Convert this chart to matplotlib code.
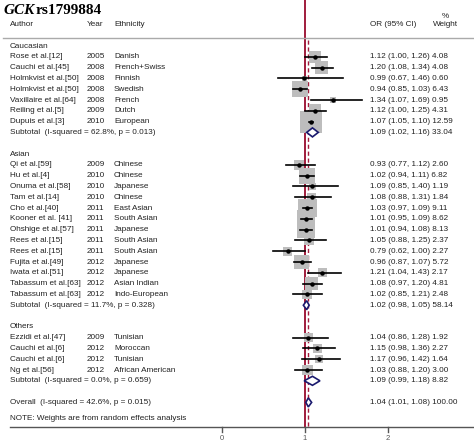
import matplotlib
matplotlib.use("Agg")
import matplotlib.pyplot as plt
from matplotlib.patches import Rectangle, Polygon

authors = ["Rose et al.[12]","Cauchi et al.[45]","Holmkvist et al.[50]","Holmkvist et al.[50]","Vaxillaire et al.[64]","Reiling et al.[5]","Dupuis et al.[3]",
           "Qi et al.[59]","Hu et al.[4]","Onuma et al.[58]","Tam et al.[14]","Cho et al.[40]","Kooner et al. [41]","Ohshige et al.[57]","Rees et al.[15]","Rees et al.[15]","Fujita et al.[49]","Iwata et al.[51]","Tabassum et al.[63]","Tabassum et al.[63]",
           "Ezzidi et al.[47]","Cauchi et al.[6]","Cauchi et al.[6]","Ng et al.[56]"]
years = [2005,2008,2008,2008,2008,2009,2010, 2009,2010,2010,2010,2011,2011,2011,2011,2011,2012,2012,2012,2012, 2009,2012,2012,2012]
ethn = ["Danish","French+Swiss","Finnish","Swedish","French","Dutch","European",
        "Chinese","Chinese","Japanese","Chinese","East Asian","South Asian","Japanese","South Asian","South Asian","Japanese","Japanese","Asian Indian","Indo-European",
        "Tunisian","Moroccan","Tunisian","African American"]
orv = [1.12,1.20,0.99,0.94,1.34,1.12,1.07, 0.93,1.02,1.09,1.08,1.03,1.01,1.01,1.05,0.79,0.96,1.21,1.08,1.02, 1.04,1.15,1.17,1.03]
lo = [1.00,1.08,0.67,0.85,1.07,1.00,1.05, 0.77,0.94,0.85,0.88,0.97,0.95,0.94,0.88,0.62,0.87,1.04,0.97,0.85, 0.86,0.98,0.96,0.88]
hi = [1.26,1.34,1.46,1.03,1.69,1.25,1.10, 1.12,1.11,1.40,1.31,1.09,1.09,1.08,1.25,1.00,1.07,1.43,1.20,1.21, 1.28,1.36,1.42,1.20]
wt = [4.08,4.08,0.60,6.43,0.95,4.31,12.59, 2.60,6.82,1.19,1.84,9.11,8.62,8.13,2.37,2.27,5.72,2.17,4.81,2.48, 1.92,2.27,1.64,3.00]
groups = ["Caucasian","Asian","Others"]
group_n = [7,13,4]
sub_label = ["Subtotal  (I-squared = 62.8%, p = 0.013)","Subtotal  (I-squared = 11.7%, p = 0.328)","Subtotal  (I-squared = 0.0%, p = 0.659)"]
sub_or = [1.09,1.02,1.09]; sub_lo = [1.02,0.98,0.99]; sub_hi = [1.16,1.05,1.18]; sub_w = [33.04,58.14,8.82]
ov_or, ov_lo, ov_hi = 1.04, 1.01, 1.08
xticks = [0,1,2]

plt.rcParams['font.family'] = ['Liberation Sans', 'DejaVu Sans']
W, H = 474, 442
fig = plt.figure(figsize=(W/100, H/100), dpi=100)
ax = fig.add_axes([0,0,1,1])
PX = 83.0
def X(px): return (px-305)/PX+1
ax.set_xlim(X(0), X(W)); ax.set_ylim(H, 0); ax.axis("off")
fs = 5.9
tc = "#222222"
def row_y(i): return 46 + i*10.8

ax.text(X(3), 11, "GCK", fontsize=11, family="Liberation Serif", va="center", fontweight="bold", fontstyle="italic")
ax.text(X(36), 11, "rs1799884", fontsize=11, family="Liberation Serif", va="center", fontweight="bold")
ax.text(X(10), 25, "Author", fontsize=fs, va="center", color=tc)
ax.text(X(87), 25, "Year", fontsize=fs, va="center", color=tc)
ax.text(X(114), 25, "Ethnicity", fontsize=fs, va="center", color=tc)
ax.text(X(370), 25, "OR (95% CI)", fontsize=fs, va="center", color=tc)
ax.text(X(445), 20, "%\nWeight", fontsize=fs, va="center", ha="center", color=tc, linespacing=1.2)
ax.plot([X(3), X(W)], [38, 38], color="#aaaaaa", lw=1)

ax.plot([1,1],[0,427], color="#a01c3c", lw=1.4, zorder=1)
ax.plot([ov_or,ov_or],[40,427], color="#a01c3c", lw=1, ls=(0,(3,2)), zorder=1)

def diamond(y, c, l, h):
    ax.add_patch(Polygon([(l,y),(c,y-4.5),(h,y),(c,y+4.5)], closed=True, fc="white", ec="#1a1a6e", lw=1.2, zorder=4))

r = 0; k = 0
for g in range(3):
    ax.text(X(10), row_y(r), groups[g], fontsize=fs, va="center", color=tc); r += 1
    for _ in range(group_n[g]):
        y = row_y(r)
        ax.text(X(10), y, authors[k], fontsize=fs, va="center", color=tc)
        ax.text(X(87), y, str(years[k]), fontsize=fs, va="center", color=tc)
        ax.text(X(114), y, ethn[k], fontsize=fs, va="center", color=tc)
        ax.text(X(370), y, f"{orv[k]:.2f} ({lo[k]:.2f}, {hi[k]:.2f}) {wt[k]:.2f}", fontsize=fs, va="center", color=tc)
        s = 6.2*wt[k]**0.5
        ax.add_patch(Rectangle((orv[k]-s/2/PX, y-s/2), s/PX, s, fc="#bdbdbd", ec="none", zorder=2))
        ax.plot([lo[k],hi[k]],[y,y], color="black", lw=1.2, zorder=3)
        ax.plot(orv[k], y, "o", color="black", ms=2.2, zorder=3)
        r += 1; k += 1
    y = row_y(r)
    ax.text(X(10), y, sub_label[g], fontsize=fs, va="center", color=tc)
    ax.text(X(370), y, f"{sub_or[g]:.2f} ({sub_lo[g]:.2f}, {sub_hi[g]:.2f}) {sub_w[g]:.2f}", fontsize=fs, va="center", color=tc)
    diamond(y, sub_or[g], sub_lo[g], sub_hi[g])
    r += 2
y = row_y(r)
ax.text(X(10), y, "Overall  (I-squared = 42.6%, p = 0.015)", fontsize=fs, va="center", color=tc)
ax.text(X(370), y, f"{ov_or:.2f} ({ov_lo:.2f}, {ov_hi:.2f}) 100.00", fontsize=fs, va="center", color=tc)
diamond(y, ov_or, ov_lo, ov_hi)
ax.text(X(10), 418, "NOTE: Weights are from random effects analysis", fontsize=fs, va="center", color=tc)

ax.plot([X(10), X(W)], [427, 427], color="#555555", lw=1)
for t in xticks:
    ax.plot([t,t],[427,432], color="#555555", lw=1)
    ax.text(t, 438, str(t), fontsize=5.5, ha="center", va="center", color="#555555")

fig.savefig("out.png", dpi=100)
